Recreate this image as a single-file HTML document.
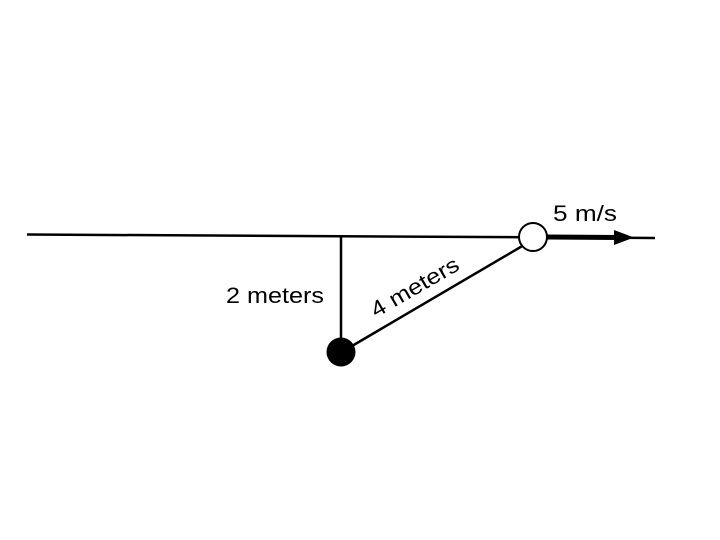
<!DOCTYPE html>
<html><head><meta charset="utf-8"><style>
html,body{margin:0;padding:0;background:#fff;}
svg{display:block;}
text{font-family:"Liberation Sans",sans-serif;font-size:22px;fill:#000;}
</style></head><body>
<svg width="720" height="540" viewBox="0 0 720 540" xmlns="http://www.w3.org/2000/svg">
<line x1="27" y1="234.5" x2="655" y2="238" stroke="#000" stroke-width="2.5"/>
<line x1="341" y1="237" x2="341" y2="345" stroke="#000" stroke-width="2.5"/>
<line x1="352" y1="346" x2="524" y2="245" stroke="#000" stroke-width="2.5"/>
<line x1="547" y1="237" x2="618" y2="237.5" stroke="#000" stroke-width="5"/>
<polygon points="614,230 634,237.5 614,245" fill="#000"/>
<circle cx="341" cy="352" r="14.5" fill="#000"/>
<circle cx="533" cy="237" r="14" fill="#fff" stroke="#000" stroke-width="2"/>
<text x="226" y="303" textLength="98" lengthAdjust="spacingAndGlyphs">2 meters</text>
<text x="0" y="0" transform="translate(376,318) rotate(-30)" textLength="98" lengthAdjust="spacingAndGlyphs">4 meters</text>
<text x="553" y="221" textLength="64" lengthAdjust="spacingAndGlyphs">5 m/s</text>
</svg>
</body></html>
